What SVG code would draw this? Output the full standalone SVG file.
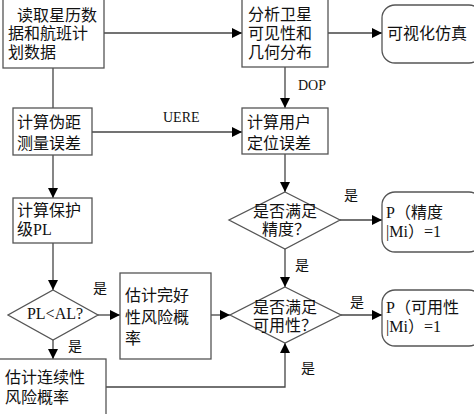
<svg xmlns="http://www.w3.org/2000/svg" width="474" height="414" viewBox="0 0 474 414">
<style>
.box{fill:#fff;stroke:#555;stroke-width:1.3}
.ln{fill:none;stroke:#444;stroke-width:1.3}
.ar{marker-end:url(#ah)}
text{font-family:"Liberation Serif","Noto Sans CJK SC",serif;font-size:16px;fill:#111}
.sm{font-size:14px}
.c{text-anchor:middle}
</style>
<defs>
<marker id="ah" markerUnits="userSpaceOnUse" markerWidth="11" markerHeight="10" refX="10" refY="5" orient="auto">
<path d="M0,0 L10,5 L0,10 z" fill="#000"/>
</marker>
</defs>
<rect width="474" height="414" fill="#fff"/>
<g id="connectors">
<line class="ln ar" x1="104" y1="33" x2="242" y2="33"/>
<line class="ln ar" x1="328" y1="33" x2="382" y2="33"/>
<line class="ln" x1="53" y1="68" x2="53" y2="108"/>
<line class="ln ar" x1="92" y1="132" x2="242" y2="132"/>
<line class="ln ar" x1="285" y1="67" x2="285" y2="108"/>
<line class="ln ar" x1="53" y1="155" x2="53" y2="198"/>
<line class="ln ar" x1="285" y1="154" x2="285" y2="192"/>
<line class="ln ar" x1="340" y1="220" x2="382" y2="220"/>
<line class="ln ar" x1="285" y1="249" x2="285" y2="287"/>
<line class="ln ar" x1="53" y1="243" x2="53" y2="290"/>
<line class="ln ar" x1="98" y1="315" x2="120" y2="315"/>
<line class="ln ar" x1="211" y1="315" x2="230" y2="315"/>
<line class="ln ar" x1="341" y1="315" x2="382" y2="315"/>
<line class="ln ar" x1="53" y1="340" x2="53" y2="359"/>
<polyline class="ln ar" points="106,387 285,387 285,343"/>
<text class="sm" x="163" y="122">UERE</text>
<text class="sm" x="298" y="90">DOP</text>
<text class="sm c" x="351" y="200">是</text>
<text class="sm c" x="302" y="270">是</text>
<text class="sm c" x="357" y="307">是</text>
<text class="sm c" x="308" y="373">是</text>
<text class="sm c" x="100" y="293">是</text>
<text class="sm c" x="75" y="351">是</text>
</g>
<g id="n1">
<rect class="box" x="3" y="-2" width="101" height="70"/>
<text x="17" y="21">读取星历数</text>
<text x="8" y="39">据和航班计</text>
<text x="8" y="58">划数据</text>
</g>
<g id="n2">
<rect class="box" x="242" y="-2" width="86" height="69"/>
<text x="248" y="20">分析卫星</text>
<text x="248" y="39">可见性和</text>
<text x="248" y="58">几何分布</text>
</g>
<g id="n3">
<rect class="box" x="382" y="5" width="100" height="58" rx="13"/>
<text x="387" y="39">可视化仿真</text>
</g>
<g id="n4">
<rect class="box" x="13" y="108" width="79" height="47"/>
<text x="17" y="128">计算伪距</text>
<text x="17" y="149">测量误差</text>
</g>
<g id="n5">
<rect class="box" x="242" y="108" width="86" height="46"/>
<text x="247" y="128">计算用户</text>
<text x="247" y="149">定位误差</text>
</g>
<g id="n6">
<rect class="box" x="13" y="198" width="79" height="45"/>
<text x="17" y="216">计算保护</text>
<text x="17" y="235">级PL</text>
</g>
<g id="n7">
<polygon class="box" points="285,192 340,220 285,249 229,220"/>
<text class="c" x="285" y="217">是否满足</text>
<text class="c" x="286" y="235">精度？</text>
</g>
<g id="n8">
<rect class="box" x="382" y="192" width="100" height="60" rx="13"/>
<text x="386" y="218">P（精度</text>
<text x="386" y="237">|Mi）=1</text>
</g>
<g id="n9">
<polygon class="box" points="53,290 98,315 53,340 8,315"/>
<text class="c" x="55" y="319">PL&lt;AL?</text>
</g>
<g id="n10">
<rect class="box" x="120" y="273" width="91" height="86"/>
<text x="125" y="301">估计完好</text>
<text x="125" y="323">性风险概</text>
<text x="125" y="344">率</text>
</g>
<g id="n11">
<polygon class="box" points="285,287 341,315 285,343 230,315"/>
<text class="c" x="285" y="313">是否满足</text>
<text class="c" x="285" y="331">可用性？</text>
</g>
<g id="n12">
<rect class="box" x="382" y="290" width="100" height="56" rx="13"/>
<text x="386" y="313">P（可用性</text>
<text x="386" y="332">|Mi）=1</text>
</g>
<g id="n13">
<rect class="box" x="-2" y="359" width="108" height="60"/>
<text x="5" y="383">估计连续性</text>
<text x="5" y="403">风险概率</text>
</g>
</svg>
